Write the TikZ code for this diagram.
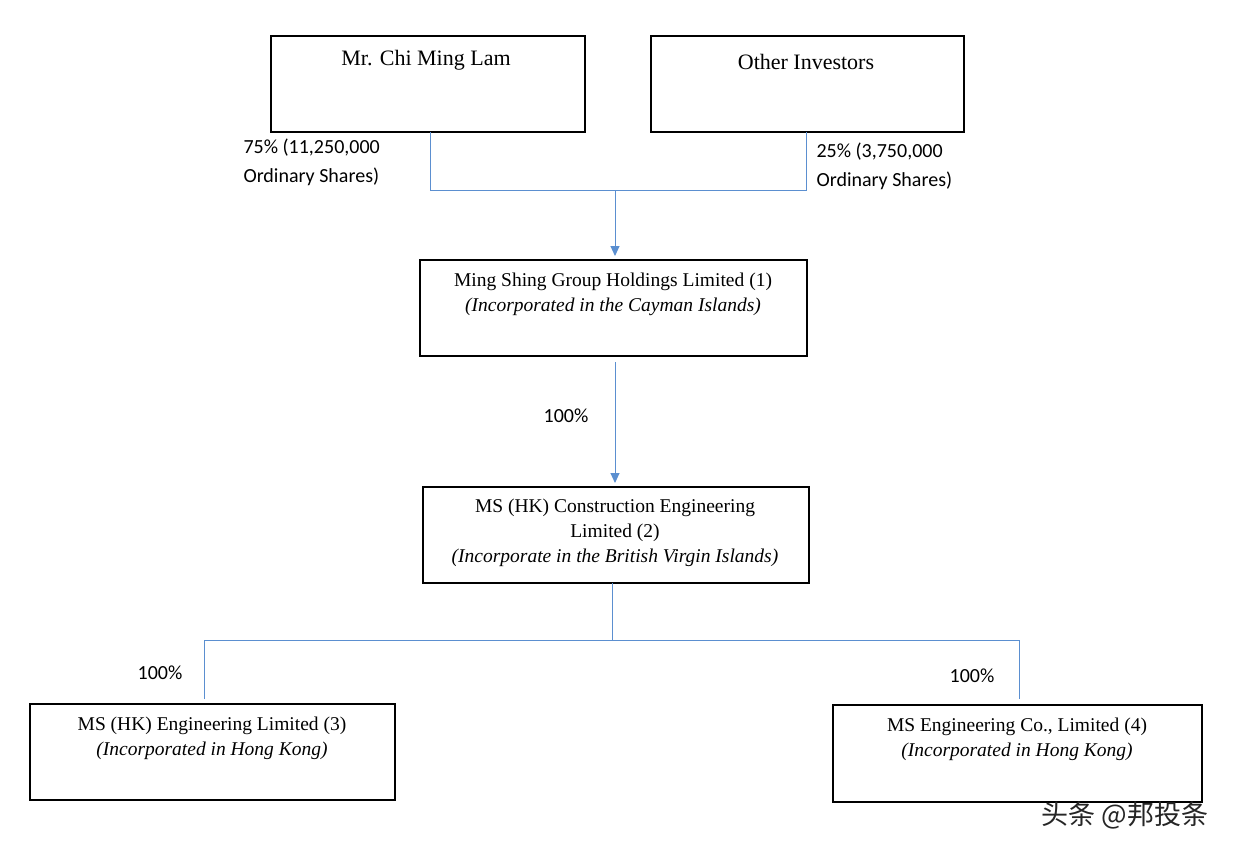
\documentclass[tikz,border=0pt]{standalone}
\usepackage{fontspec}
\setmainfont{Liberation Serif}
\newfontfamily\lab{Carlito}
\newfontfamily\cjk{Noto Sans CJK SC}
\usetikzlibrary{arrows.meta}
\definecolor{ln}{HTML}{5B8FD0}
\begin{document}
\begin{tikzpicture}[x=1pt,y=-1pt,
 box/.style={draw=black,line width=1.3pt},
 con/.style={draw=ln,line width=1pt},
 arr/.style={con,-{Triangle[length=10pt,width=9pt]}},
 bt/.style={font=\fontsize{19.5}{25}\selectfont,align=center},
 pc/.style={font=\lab\fontsize{20}{22}\selectfont},
 lb/.style={font=\lab\fontsize{20}{29}\selectfont,align=left,anchor=north west}]
\useasboundingbox[fill=white] (0,0) rectangle (1248,854);
\draw[box] (271,36) rectangle (585,132);
\node[font=\fontsize{22}{26}\selectfont] (lam) at (426,60) {Mr. Chi Ming Lam};
\draw[box] (651,36) rectangle (964,132);
\node[font=\fontsize{22}{26}\selectfont] (oth) at (806,62) {Other Investors};
\coordinate (a1) at (430,132); \coordinate (a2) at (430,190);
\coordinate (b1) at (806,132); \coordinate (b2) at (806,190);
\coordinate (m) at (615,190); \coordinate (mt) at (615,256);
\draw[con] (a1)--(a2)--(b2)--(b1);
\draw[arr] (m)--(mt);
\node[lb] (l75) at (240,135) {75\% (11,250,000\\Ordinary Shares)};
\node[lb] (l25) at (813,139) {25\% (3,750,000\\Ordinary Shares)};
\draw[box] (420,260) rectangle (807,356);
\node[bt] (ms) at (613,294) {Ming Shing Group Holdings Limited (1)\\\textit{(Incorporated in the Cayman Islands)}};
\coordinate (c1) at (615,362); \coordinate (c2) at (615,483);
\draw[arr] (c1)--(c2);
\node[pc] (p1) at (566,416) {100\%};
\draw[box] (423,487) rectangle (809,583);
\node[bt] (hk) at (615,533) {MS (HK) Construction Engineering\\Limited (2)\\\textit{(Incorporate in the British Virgin Islands)}};
\coordinate (d1) at (612,583); \coordinate (d2) at (612,640);
\coordinate (e1) at (204,640); \coordinate (e2) at (204,699);
\coordinate (f1) at (1019,640); \coordinate (f2) at (1019,699);
\draw[con] (d1)--(d2);
\draw[con] (e2)--(e1)--(f1)--(f2);
\node[pc] (p2) at (160,673) {100\%};
\node[pc] (p3) at (972,676) {100\%};
\draw[box] (30,704) rectangle (395,800);
\node[bt] (l) at (212,738) {MS (HK) Engineering Limited (3)\\\textit{(Incorporated in Hong Kong)}};
\draw[box] (833,705) rectangle (1202,802);
\node[bt] (r) at (1017,739) {MS Engineering Co., Limited (4)\\\textit{(Incorporated in Hong Kong)}};
\node[font=\cjk\fontsize{27}{30}\selectfont,text=black!85] (wm) at (1125,815) {头条 @邦投条};
\end{tikzpicture}
\end{document}
